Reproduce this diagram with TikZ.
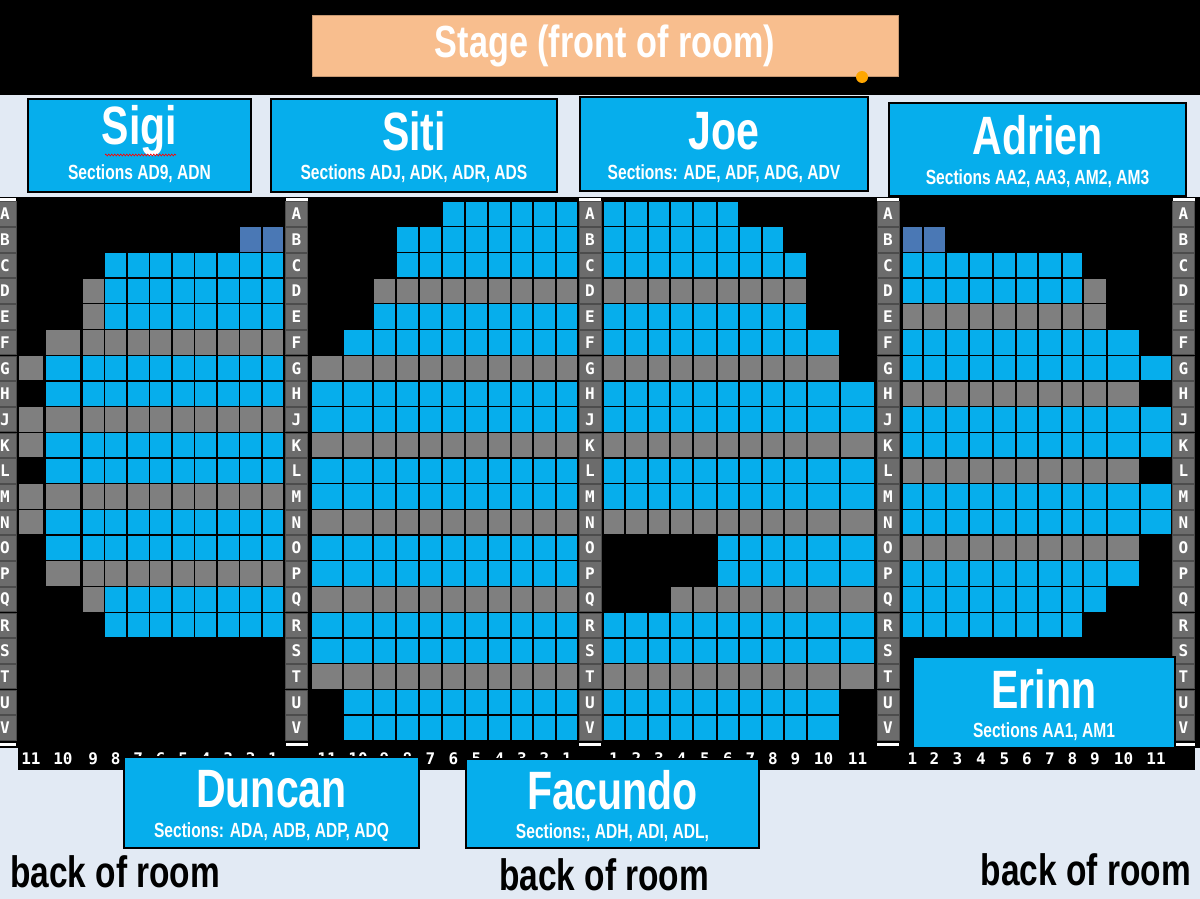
\documentclass[tikz,border=0pt]{standalone}
\usepackage{fontspec}
\usetikzlibrary{decorations.pathmorphing}
\newfontfamily\cond{Liberation Sans}[FakeStretch=0.76]
\newfontfamily\monob{DejaVu Sans Mono}
\definecolor{seatblue}{HTML}{06AEEC}
\definecolor{seatgray}{HTML}{7F7F7F}
\definecolor{seatdark}{HTML}{4A78B5}
\definecolor{bgpale}{HTML}{E2EAF4}
\definecolor{stagecol}{HTML}{F8BE8E}
\colorlet{bl}{seatblue}\colorlet{gr}{seatgray}\colorlet{dk}{seatdark}
\tikzset{
 seat/.style={draw=black,line width=1.3pt},
 lbl/.style={draw=black!70,fill=gray!85!black,line width=0.8pt,minimum width=22pt,minimum height=24.5pt,inner sep=0pt,text=white,font=\monob\bfseries\fontsize{16}{16}\selectfont},
 num/.style={text=white,font=\monob\bfseries\fontsize{16}{16}\selectfont,inner sep=0pt},
 namebox/.style={draw=black,line width=1.2pt,fill=seatblue,inner sep=0pt},
 title/.style={text=white,font=\cond\bfseries\fontsize{54}{54}\selectfont,inner sep=0pt},
 sub/.style={text=white,font=\cond\bfseries\fontsize{20.5}{20.5}\selectfont,inner sep=0pt},
 back/.style={text=black,font=\cond\bfseries\fontsize{44}{44}\selectfont,inner sep=0pt}
}
\def\LA{{0,262,239.5,217,194.5,172,149.5,127,104.5,82,45,18}}
\def\LB{{0,284,262,239.5,217,194.5,172,149.5,127,104.5,81,44}}
\def\SA{{0,556,533,511,488,465,442,419,396,373,343,311}}
\def\SB{{0,578,556,533,511,488,465,442,419,396,373,343}}
\def\JA{{0,603,625,648,670,693,717,739,762,784,807,840}}
\def\JB{{0,625,648,670,693,717,739,762,784,807,840,875}}
\def\RA{{0,902,923,946,969,993,1016,1038,1062,1083,1107,1140}}
\def\RB{{0,923,946,969,993,1016,1038,1062,1083,1107,1140,1172}}
\newcommand\segs[3]{%
 \foreach \k/\a/\b/\c in {#3}{
  \foreach \i in {\a,...,\b}{
   \pgfmathsetmacro\xa{#1[\i]}\pgfmathsetmacro\xb{#2[\i]}
   \draw[seat,fill=\c] (\xa,{201+25.7*\k}) rectangle (\xb,{226.7+25.7*\k});
  }}}
\newcommand\nums[4]{%
 \foreach \i in {#3}{
  \pgfmathsetmacro\xa{#1[\i]}\pgfmathsetmacro\xb{#2[\i]}
  \node[num] (n-#4-\i) at ({(\xa+\xb)/2},759) {\i};
 }}
\begin{document}
\begin{tikzpicture}[x=1pt,y=-1pt]
\useasboundingbox (0,0) rectangle (1200,899);
\fill[bgpale] (0,0) rectangle (1200,899);
\fill[black] (0,0) rectangle (1200,95);
\fill[black] (0,197) rectangle (1200,748);
\fill[black] (18,748) rectangle (1195,770);
% stage
\node[fill=stagecol,draw=stagecol!80!black,line width=0.5pt,minimum width=586pt,minimum height=61pt,inner sep=0pt,text=white,font=\cond\bfseries\fontsize{45}{45}\selectfont] (stage) at (605,46) {Stage (front of room)};
\fill[orange!70!yellow] (862,77) circle (6);
% seats
\segs{\LA}{\LB}{1/1/2/dk,2/1/8/bl,3/1/8/bl,3/9/9/gr,4/1/8/bl,4/9/9/gr,5/1/10/gr,6/1/10/bl,6/11/11/gr,7/1/10/bl,8/1/11/gr,9/1/10/bl,9/11/11/gr,10/1/10/bl,11/1/11/gr,12/1/10/bl,12/11/11/gr,13/1/10/bl,14/1/10/gr,15/1/8/bl,15/9/9/gr,16/1/8/bl}
\segs{\SA}{\SB}{0/1/6/bl,1/1/8/bl,2/1/8/bl,3/1/9/gr,4/1/9/bl,5/1/10/bl,6/1/11/gr,7/1/11/bl,8/1/11/bl,9/1/11/gr,10/1/11/bl,11/1/11/bl,12/1/11/gr,13/1/11/bl,14/1/11/bl,15/1/11/gr,16/1/11/bl,17/1/11/bl,18/1/11/gr,19/1/10/bl,20/1/10/bl}
\segs{\JA}{\JB}{0/1/6/bl,1/1/8/bl,2/1/9/bl,3/1/9/gr,4/1/9/bl,5/1/10/bl,6/1/10/gr,7/1/11/bl,8/1/11/bl,9/1/11/gr,10/1/11/bl,11/1/11/bl,12/1/11/gr,13/6/11/bl,14/6/11/bl,15/4/11/gr,16/1/11/bl,17/1/11/bl,18/1/11/gr,19/1/10/bl,20/1/10/bl}
\segs{\RA}{\RB}{1/1/2/dk,2/1/8/bl,3/1/8/bl,3/9/9/gr,4/1/9/gr,5/1/10/bl,6/1/11/bl,7/1/10/gr,8/1/11/bl,9/1/11/bl,10/1/10/gr,11/1/11/bl,12/1/11/bl,13/1/10/gr,14/1/10/bl,15/1/9/bl,16/1/8/bl}
% row labels
\foreach \cx [count=\c] in {5,296.5,590,888,1183.5}{
 \fill[white] ({\cx-11},198) rectangle ({\cx+11},201);
 \fill[white] ({\cx-11},743) rectangle ({\cx+11},746);
 \foreach \l [count=\k from 0] in {A,B,C,D,E,F,G,H,J,K,L,M,N,O,P,Q,R,S,T,U,V}
  \node[lbl] (r-\c-\k) at (\cx,{214+25.7*\k}) {\l};
}
% seat numbers
\nums{\LA}{\LB}{1,...,11}{L}
\nums{\SA}{\SB}{1,...,11}{S}
\nums{\JA}{\JB}{1,...,11}{J}
\nums{\RA}{\RB}{1,...,11}{R}
% name boxes
\node[namebox,minimum width=223pt,minimum height=93pt] (sigi) at (139.5,145.5) {};
\node[title] (sigit) at (139.5,131) {Sigi};
\node[sub] (sigis) at (139.5,174) {Sections AD9, ADN};
\draw[red,line width=0.6pt,decorate,decoration={zigzag,amplitude=1pt,segment length=3pt}] (105,155) -- (176,155);
\node[namebox,minimum width=286pt,minimum height=93pt] (siti) at (414,145.5) {};
\node[title] at (414,131) (sitit) {Siti};
\node[sub] at (414,174) (sitis) {Sections ADJ, ADK, ADR, ADS};
\node[namebox,minimum width=288pt,minimum height=94pt] (joe) at (724,144) {};
\node[title] at (724,131) (joet) {Joe};
\node[sub] at (724,174) (joes) {Sections: ADE, ADF, ADG, ADV};
\node[namebox,minimum width=297pt,minimum height=93pt] (adr) at (1037.5,149.5) {};
\node[title] at (1037.5,135) (adrt) {Adrien};
\node[sub] at (1037.5,179) (adrs) {Sections AA2, AA3, AM2, AM3};
\node[namebox,minimum width=262pt,minimum height=91pt] (eri) at (1044,702.5) {};
\node[title] at (1044,689) (erit) {Erinn};
\node[sub] at (1044,732) (eris) {Sections AA1, AM1};
\node[namebox,minimum width=295pt,minimum height=91pt] (dun) at (271.5,802.5) {};
\node[title] at (271.5,789) (dunt) {Duncan};
\node[sub] at (271.5,832) (duns) {Sections: ADA, ADB, ADP, ADQ};
\node[namebox,minimum width=293pt,minimum height=89pt] (fac) at (612.5,803.5) {};
\node[title] at (612.5,790) (fact) {Facundo};
\node[sub] at (612.5,833) (facs) {Sections:, ADH, ADI, ADL,};
% back of room
\node[back,anchor=west] (b1) at (10,872) {back of room};
\node[back,anchor=west] (b2) at (499,875) {back of room};
\node[back,anchor=east] (b3) at (1191,870) {back of room};
\end{tikzpicture}
\end{document}
